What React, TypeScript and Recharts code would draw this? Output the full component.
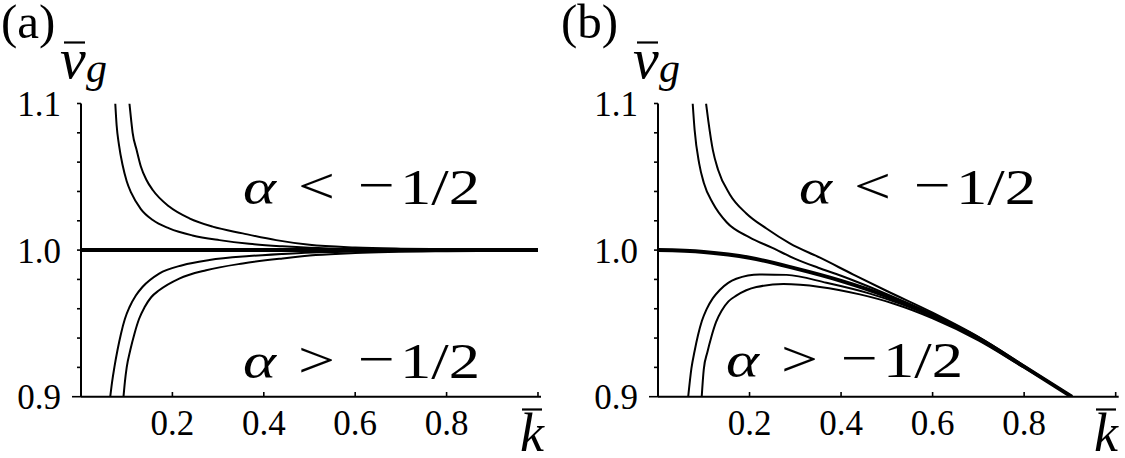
import React from 'react';
import { LineChart, Line, XAxis, YAxis } from 'recharts';

// k values on the horizontal axis, v_g values on the vertical axis
const kTicks = [0.2, 0.4, 0.6, 0.8, 1.0];
const vTicks = [0.9, 0.92, 0.94, 0.96, 0.98, 1.0, 1.02, 1.04, 1.06, 1.08, 1.1];
const vLabels = [0.9, 1.0, 1.1];

// panel (a)
const thickA = [
  { k: 0, v: 1.0 },
  { k: 1.0, v: 1.0 },
];
const upperInnerA = [
  { k: 0.075, v: 1.1 }, { k: 0.078, v: 1.085 }, { k: 0.083, v: 1.072 }, { k: 0.091, v: 1.058 },
  { k: 0.1, v: 1.047 }, { k: 0.11, v: 1.039 }, { k: 0.131, v: 1.028 }, { k: 0.157, v: 1.0205 },
  { k: 0.193, v: 1.0148 }, { k: 0.244, v: 1.01 }, { k: 0.303, v: 1.0068 }, { k: 0.368, v: 1.0043 },
  { k: 0.441, v: 1.0026 }, { k: 0.5, v: 1.0016 }, { k: 0.6, v: 1.0008 }, { k: 0.8, v: 1.0003 },
  { k: 1.0, v: 1.0001 },
];
const upperOuterA = [
  { k: 0.106, v: 1.1 }, { k: 0.11, v: 1.088 }, { k: 0.113, v: 1.08 }, { k: 0.122, v: 1.068 },
  { k: 0.131, v: 1.057 }, { k: 0.143, v: 1.048 }, { k: 0.157, v: 1.041 }, { k: 0.193, v: 1.0297 },
  { k: 0.237, v: 1.0217 }, { k: 0.288, v: 1.016 }, { k: 0.354, v: 1.0114 }, { k: 0.427, v: 1.0068 },
  { k: 0.5, v: 1.0036 }, { k: 0.6, v: 1.0018 }, { k: 0.7, v: 1.001 }, { k: 0.8, v: 1.0006 },
  { k: 1.0, v: 1.0002 },
];
const lowerInnerA = [
  { k: 0.064, v: 0.9 }, { k: 0.068, v: 0.91 }, { k: 0.073, v: 0.92 }, { k: 0.08, v: 0.932 },
  { k: 0.0875, v: 0.943 }, { k: 0.096, v: 0.953 }, { k: 0.106, v: 0.961 }, { k: 0.12, v: 0.969 },
  { k: 0.135, v: 0.975 }, { k: 0.171, v: 0.984 }, { k: 0.222, v: 0.9897 }, { k: 0.281, v: 0.9932 },
  { k: 0.368, v: 0.9959 }, { k: 0.463, v: 0.9977 }, { k: 0.6, v: 0.999 }, { k: 0.8, v: 0.9996 },
  { k: 1.0, v: 0.9998 },
];
const lowerOuterA = [
  { k: 0.093, v: 0.9 }, { k: 0.096, v: 0.91 }, { k: 0.1, v: 0.92 }, { k: 0.108, v: 0.932 },
  { k: 0.117, v: 0.943 }, { k: 0.127, v: 0.953 }, { k: 0.139, v: 0.961 }, { k: 0.154, v: 0.968 },
  { k: 0.171, v: 0.9726 }, { k: 0.215, v: 0.9806 }, { k: 0.274, v: 0.9863 }, { k: 0.354, v: 0.9909 },
  { k: 0.441, v: 0.9943 }, { k: 0.514, v: 0.9966 }, { k: 0.6, v: 0.998 }, { k: 0.8, v: 0.9993 },
  { k: 1.0, v: 0.9997 },
];

// panel (b)
const thickB = [
  { k: 0, v: 1.0 }, { k: 0.1, v: 0.9987 }, { k: 0.2, v: 0.9948 }, { k: 0.3, v: 0.9875 },
  { k: 0.4, v: 0.979 }, { k: 0.5, v: 0.9685 }, { k: 0.6, v: 0.9555 }, { k: 0.7, v: 0.9398 },
  { k: 0.8, v: 0.9205 }, { k: 0.904, v: 0.9 },
];
const upperInnerB = [
  { k: 0.0758, v: 1.1 }, { k: 0.08, v: 1.082 }, { k: 0.09, v: 1.059 }, { k: 0.1, v: 1.046 },
  { k: 0.12, v: 1.032 }, { k: 0.15, v: 1.019 }, { k: 0.2, v: 1.0087 }, { k: 0.25, v: 1.0015 },
  { k: 0.3, v: 0.994 }, { k: 0.35, v: 0.988 }, { k: 0.4, v: 0.9825 }, { k: 0.5, v: 0.97 },
  { k: 0.6, v: 0.9563 }, { k: 0.7, v: 0.9403 }, { k: 0.8, v: 0.9207 }, { k: 0.903, v: 0.9 },
];
const upperOuterB = [
  { k: 0.105, v: 1.1 }, { k: 0.11, v: 1.088 }, { k: 0.12, v: 1.068 }, { k: 0.131, v: 1.055 },
  { k: 0.157, v: 1.038 }, { k: 0.193, v: 1.025 }, { k: 0.237, v: 1.0147 }, { k: 0.288, v: 1.0046 },
  { k: 0.354, v: 0.9948 }, { k: 0.427, v: 0.9833 }, { k: 0.5, v: 0.9721 }, { k: 0.6, v: 0.9573 },
  { k: 0.7, v: 0.9408 }, { k: 0.8, v: 0.9211 }, { k: 0.905, v: 0.9 },
];
const lowerInnerB = [
  { k: 0.066, v: 0.9 }, { k: 0.073, v: 0.9193 }, { k: 0.08, v: 0.9312 }, { k: 0.0875, v: 0.9421 },
  { k: 0.096, v: 0.9518 }, { k: 0.106, v: 0.9596 }, { k: 0.12, v: 0.9672 }, { k: 0.135, v: 0.9728 },
  { k: 0.171, v: 0.9805 }, { k: 0.222, v: 0.9834 }, { k: 0.281, v: 0.9831 }, { k: 0.368, v: 0.9777 },
  { k: 0.463, v: 0.9703 }, { k: 0.6, v: 0.9545 }, { k: 0.7, v: 0.9392 }, { k: 0.8, v: 0.9203 },
  { k: 0.904, v: 0.9 },
];
const lowerOuterB = [
  { k: 0.0955, v: 0.9 }, { k: 0.1, v: 0.9187 }, { k: 0.108, v: 0.9305 }, { k: 0.117, v: 0.9413 },
  { k: 0.127, v: 0.951 }, { k: 0.139, v: 0.9586 }, { k: 0.154, v: 0.965 }, { k: 0.171, v: 0.9689 },
  { k: 0.215, v: 0.9748 }, { k: 0.274, v: 0.9768 }, { k: 0.354, v: 0.9749 }, { k: 0.441, v: 0.9698 },
  { k: 0.514, v: 0.9636 }, { k: 0.6, v: 0.9535 }, { k: 0.7, v: 0.9385 }, { k: 0.8, v: 0.9198 },
  { k: 0.906, v: 0.9 },
];

const SERIF = 'Liberation Serif';

const XTick = (props: any) => {
  const { x, y, payload } = props;
  const val = payload.value;
  return (
    <g>
      <line x1={x} y1={y} x2={x} y2={y - 4.7} stroke="#000" strokeWidth={1.6} />
      {val < 0.99 && (
        <text x={x} y={y + 38.3} textAnchor="middle" style={{ fontFamily: SERIF, fontSize: 35 }} fill="#000">
          {val.toFixed(1)}
        </text>
      )}
    </g>
  );
};

const YTick = (props: any) => {
  const { x, y, payload } = props;
  const val = payload.value;
  const isLabel = vLabels.some((l) => Math.abs(l - val) < 1e-6);
  const len = Math.abs(val - 0.9) < 1e-6 ? 9 : 4;
  return (
    <g>
      <line x1={x - len} y1={y} x2={x} y2={y} stroke="#000" strokeWidth={1.6} />
      {isLabel && (
        <text x={x - 20} y={y + 12.5} textAnchor="end" style={{ fontFamily: SERIF, fontSize: 35 }} fill="#000">
          {val.toFixed(1)}
        </text>
      )}
    </g>
  );
};

const Panel = ({ width, yAxisWidth, right, thick, curves }: any) => (
  <LineChart width={width} height={458} margin={{ top: 103.5, right, bottom: 0, left: 0 }}>
    <XAxis
      type="number"
      dataKey="k"
      domain={[0, 1.0066]}
      ticks={kTicks}
      interval={0}
      allowDataOverflow
      height={61.3}
      tickSize={0}
      tickMargin={0}
      tickLine={false}
      axisLine={{ stroke: '#000', strokeWidth: 2 }}
      tick={(p: any) => <XTick {...p} />}
    />
    <YAxis
      type="number"
      dataKey="v"
      domain={[0.9, 1.1]}
      ticks={vTicks}
      interval={0}
      allowDataOverflow
      width={yAxisWidth}
      tickSize={0}
      tickMargin={0}
      tickLine={false}
      axisLine={{ stroke: '#000', strokeWidth: 2 }}
      tick={(p: any) => <YTick {...p} />}
    />
    {curves.map((c: any, i: number) => (
      <Line
        key={i}
        data={c}
        dataKey="v"
        type="monotone"
        dot={false}
        stroke="#000"
        strokeWidth={2}
        isAnimationActive={false}
      />
    ))}
    <Line data={thick} dataKey="v" type="monotone" dot={false} stroke="#000" strokeWidth={4} isAnimationActive={false} />
  </LineChart>
);

const AlphaLabel = ({ x, y, rel }: { x: number; y: number; rel: string }) => (
  <g style={{ fontFamily: SERIF, fontSize: 51 }} fill="#000">
    <text x={x} y={y} style={{ fontStyle: 'italic' }} textLength={33} lengthAdjust="spacingAndGlyphs">α</text>
    <text x={x + 55} y={y - 1} textLength={37} lengthAdjust="spacingAndGlyphs">{rel}</text>
    <text x={x + 115} y={y - 2} textLength={37} lengthAdjust="spacingAndGlyphs">−</text>
    <text x={x + 157} y={y} textLength={80} lengthAdjust="spacingAndGlyphs">1/2</text>
  </g>
);

const AxisTitles = ({ tag, tx, vx, kx }: { tag: string; tx: number; vx: number; kx: number }) => (
  <g style={{ fontFamily: SERIF }} fill="#000">
    <text x={tx} y={38} style={{ fontSize: 49 }}>{tag}</text>
    <text x={vx} y={78} style={{ fontSize: 58, fontStyle: 'italic' }}>v</text>
    <line x1={vx + 4} y1={42.5} x2={vx + 25} y2={42.5} stroke="#000" strokeWidth={2.2} />
    <text x={vx + 26} y={82} style={{ fontSize: 42, fontStyle: 'italic' }}>g</text>
    <text x={kx} y={451} style={{ fontSize: 54, fontStyle: 'italic' }}>k</text>
    <line x1={kx + 2} y1={409.5} x2={kx + 22} y2={409.5} stroke="#000" strokeWidth={2.2} />
  </g>
);

export default function App() {
  return (
    <div style={{ position: 'absolute', left: 0, top: 0, width: 1125, height: 458, background: '#fff' }}>
      <div style={{ position: 'absolute', left: 0, top: 0 }}>
        <Panel
          width={560}
          yAxisWidth={81}
          right={19}
          thick={thickA}
          curves={[upperInnerA, upperOuterA, lowerInnerA, lowerOuterA]}
        />
      </div>
      <div style={{ position: 'absolute', left: 575, top: 0 }}>
        <Panel
          width={550}
          yAxisWidth={83}
          right={6.3}
          thick={thickB}
          curves={[upperInnerB, upperOuterB, lowerInnerB, lowerOuterB]}
        />
      </div>
      <svg
        width={1125}
        height={458}
        style={{ position: 'absolute', left: 0, top: 0, pointerEvents: 'none' }}
      >
        <AxisTitles tag="(a)" tx={1} vx={60} kx={520} />
        <AxisTitles tag="(b)" tx={561} vx={633} kx={1094} />
        <AlphaLabel x={243} y={204} rel="<" />
        <AlphaLabel x={243} y={378} rel=">" />
        <AlphaLabel x={799} y={203.5} rel="<" />
        <AlphaLabel x={726} y={377} rel=">" />
      </svg>
    </div>
  );
}
